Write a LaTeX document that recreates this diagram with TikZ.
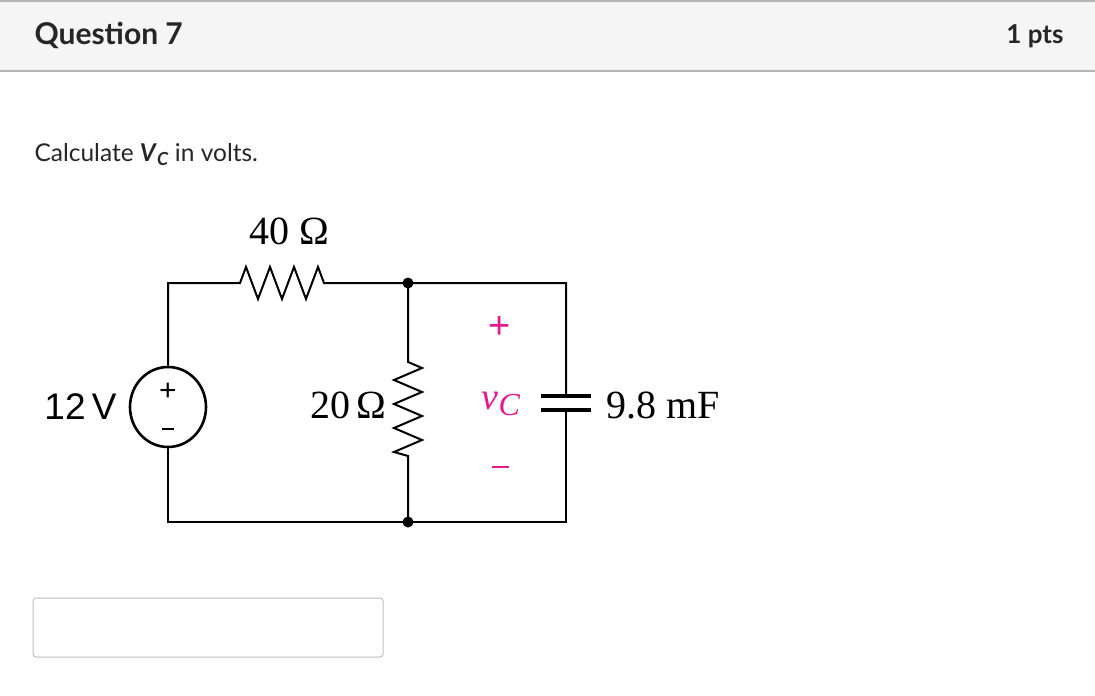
\documentclass[tikz,border=0pt]{standalone}
\usepackage{fontspec}
\setmainfont{Lato}
\newfontfamily\ser{Liberation Serif}
\newfontfamily\sans{Liberation Sans}
\usetikzlibrary{shapes.geometric}
\definecolor{mag}{HTML}{E6198C}
\tikzset{w/.style={line width=2pt,line join=miter},lbl/.style={font=\ser\fontsize{40}{40}\selectfont},dot/.style={circle,fill=black,inner sep=0pt,minimum size=11pt}}
\begin{document}
\begin{tikzpicture}[x=1pt,y=-1pt]
\useasboundingbox (0,0) rectangle (1095,696);
\fill[white] (0,0) rectangle (1095,696);
\fill[gray!8] (0,0) rectangle (1095,71);
\draw[gray!60,line width=1.5pt] (0,1) -- (1095,1);
\draw[gray!60,line width=1.5pt] (0,71) -- (1095,71);
\node[anchor=west,font=\fontsize{30}{30}\selectfont\bfseries,text=black!85] (q) at (31,35) {Question 7};
\node[anchor=east,font=\fontsize{26}{26}\selectfont\bfseries,text=black!85] (p) at (1067,36) {1 pts};
\node[anchor=west,font=\fontsize{24.5}{24.5}\selectfont,text=black!85] (c) at (31,155) {Calculate \textbf{\textit{V}}\raisebox{-4pt}{\textbf{\textit{\fontsize{18}{18}\selectfont C}}} in volts.};
\draw[gray!50,line width=1pt,rounded corners=3pt] (33,598) rectangle (383,657);
% circuit
\coordinate (tl) at (168,283); \coordinate (bl) at (168,522);
\node[dot] (nt) at (408,283) {}; \node[dot] (nb) at (408,522) {};
\coordinate (tr) at (566,283); \coordinate (br) at (566,522);
\node[ellipse,draw,line width=2.6pt,minimum width=76pt,minimum height=80pt] (src) at (168,407) {};
\node[font=\sans\fontsize{30}{30}\selectfont] at (168,392) {+};
\node at (168,429) {\rule{12pt}{1.6pt}};
\draw[w] (src.north) -- (tl) -- (240,283) -- (246,267) -- (258,299) -- (270,267) -- (282,299) -- (294,267) -- (306,299) -- (318,267) -- (324,283) -- (nt.center) -- (tr) -- (566,394);
\draw[w] (src.south) -- (bl) -- (nb.center) -- (br) -- (566,411);
\draw[w] (nt.center) -- (408,362) -- (422,368) -- (394,380) -- (422,392) -- (394,404) -- (422,416) -- (394,428) -- (422,440) -- (394,452) -- (408,456) -- (nb.center);
\draw[line width=4.5pt] (541,396) -- (591,396) (541,410) -- (591,410);
\node[lbl] at (289,231) {40 Ω};
\node[lbl,anchor=east] at (390,405) {20\,Ω};
\node[font=\sans\fontsize{37}{37}\selectfont,anchor=east] at (120,407) {12\,V};
\node[lbl,anchor=west] at (603,405) {9.8 mF};
\node[font=\ser\fontsize{38}{38}\selectfont,text=mag] at (501,404) {\textit{v}\raisebox{-6pt}{\textit{\fontsize{32}{32}\selectfont C}}};
\node[font=\sans\fontsize{38}{38}\selectfont,text=mag] at (500,328) {+};
\node at (500,467) {\textcolor{mag}{\rule{17pt}{2pt}}};
\end{tikzpicture}
\end{document}
